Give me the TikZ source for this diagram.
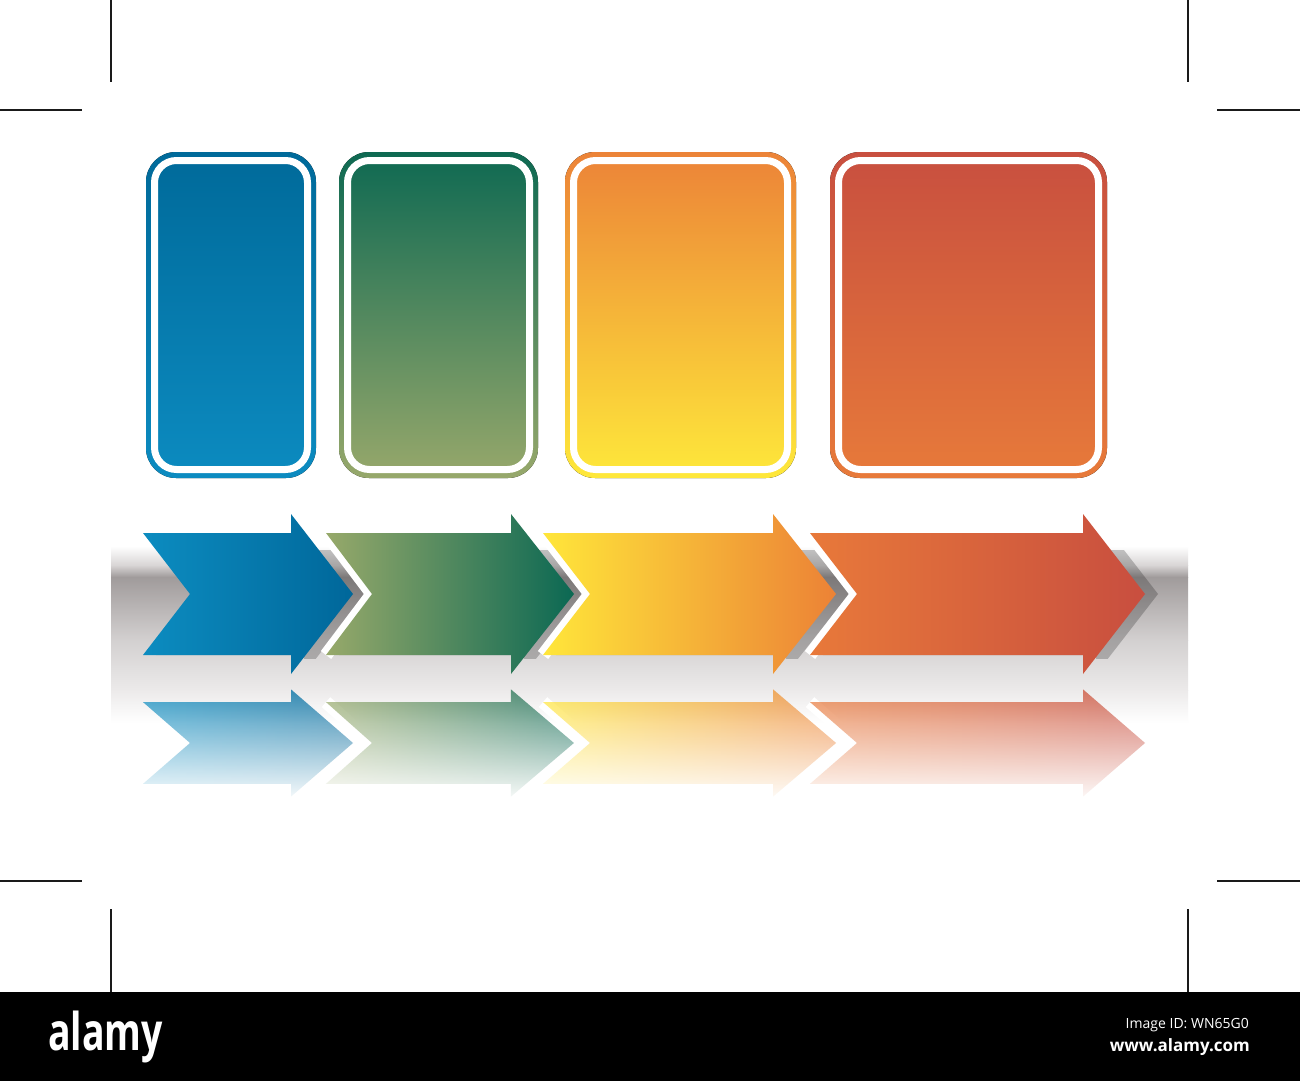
\documentclass[tikz,border=0pt]{standalone}
\usepackage{fontspec}
\setmainfont{Open Sans}
\usetikzlibrary{fadings}
\definecolor{boxAt}{HTML}{006A9A}\definecolor{boxAb}{HTML}{0C8BC0}
\definecolor{boxBt}{HTML}{0E6952}\definecolor{boxBb}{HTML}{97A86B}
\definecolor{boxCt}{HTML}{EC8338}\definecolor{boxCb}{HTML}{FEE83A}
\definecolor{boxDt}{HTML}{C84F3F}\definecolor{boxDb}{HTML}{E77A3A}
\definecolor{arAl}{HTML}{0C8CC0}\definecolor{arAr}{HTML}{00679A}
\definecolor{arBl}{HTML}{97A96A}\definecolor{arBr}{HTML}{0B6853}
\definecolor{arCl}{HTML}{FFE63A}\definecolor{arCr}{HTML}{EC8236}
\definecolor{arDl}{HTML}{E8793A}\definecolor{arDr}{HTML}{C84E3F}
\definecolor{cropline}{HTML}{1A1A1A}
\definecolor{bandA}{HTML}{D9D6D6}\definecolor{bandB}{HTML}{A09B9B}
\definecolor{bandC}{HTML}{D3D0D0}\definecolor{bandD}{HTML}{ECEAEA}
\tikzfading[name=reflfade, top color=transparent!22, bottom color=transparent!95]
\tikzset{shadowfill/.style={fill=black, fill opacity=0.22}}
% chevron: #1 options, #2 left, #3 notch, #4 head base, #5 tip
\newcommand\chevfill[5]{\path[#1] (#2,-61) -- (#4,-61) -- (#4,-80) -- (#5,0) -- (#4,80) -- (#4,61) -- (#2,61) -- (#3,0) -- cycle;}
\newcommand\chevshadow[4]{\begin{scope}\clip (100,-44) rectangle (1200,64);\chevfill{shadowfill, xshift=13pt}{#1}{#2}{#3}{#4}\end{scope}}
\newcommand\notchline[2]{\draw[white, line width=13pt, line join=miter] (#1,-61) -- (#2,0) -- (#1,61);}
% box: #1 top colour, #2 bottom colour, #3 left, #4 right
\newcommand\panel[4]{%
  \fill[top color=#1, bottom color=#2, rounded corners=30pt] (#3,152) rectangle (#4,478);
  \draw[white, line width=7pt, rounded corners=22pt] ({#3+8.5},160.5) rectangle ({#4-8.5},469.5);}
\begin{document}
\begin{tikzpicture}[x=1pt, y=-1pt]
\useasboundingbox (0,0) rectangle (1300,1081);
\fill[white] (0,0) rectangle (1300,1081);
% crop marks
\begin{scope}[cropline, line width=2pt]
\draw (111,0) -- (111,82);  \draw (0,110) -- (82,110);
\draw (1188,0) -- (1188,82); \draw (1217,110) -- (1300,110);
\draw (0,881) -- (82,881);  \draw (1217,881) -- (1300,881);
\draw (111,909) -- (111,992); \draw (1188,909) -- (1188,992);
\end{scope}
% panels
\panel{boxAt}{boxAb}{146}{316}
\panel{boxBt}{boxBb}{339}{538}
\panel{boxCt}{boxCb}{565}{796}
\panel{boxDt}{boxDb}{830}{1107}
% grey band
\shade[top color=white, bottom color=bandA] (111,546) rectangle (1188,565);
\shade[top color=bandA, bottom color=bandB] (111,565) rectangle (1188,577);
\shade[top color=bandB, bottom color=bandC] (111,577) rectangle (1188,640);
\shade[top color=bandC, bottom color=bandD] (111,640) rectangle (1188,690);
\shade[top color=bandD, bottom color=white] (111,690) rectangle (1188,723);
% main arrows
\begin{scope}[shift={(0,594)}]
\chevshadow{143}{190}{291}{353}
\chevfill{left color=arAl, right color=arAr}{143}{190}{291}{353}
\notchline{326}{372}
\chevshadow{326}{372}{511}{574}
\chevfill{left color=arBl, right color=arBr}{326}{372}{511}{574}
\notchline{543}{590}
\chevshadow{543}{590}{773}{836}
\chevfill{left color=arCl, right color=arCr}{543}{590}{773}{836}
\notchline{810}{857}
\chevshadow{810}{857}{1083}{1145}
\chevfill{left color=arDl, right color=arDr}{810}{857}{1083}{1145}
\end{scope}
% reflections
\begin{scope}[shift={(0,743)}, yscale=0.67]
\chevfill{left color=arAl, right color=arAr, path fading=reflfade}{143}{190}{291}{353}
\notchline{326}{372}
\chevfill{left color=arBl, right color=arBr, path fading=reflfade}{326}{372}{511}{574}
\notchline{543}{590}
\chevfill{left color=arCl, right color=arCr, path fading=reflfade}{543}{590}{773}{836}
\notchline{810}{857}
\chevfill{left color=arDl, right color=arDr, path fading=reflfade}{810}{857}{1083}{1145}
\end{scope}
% footer bar
\fill[black] (0,992) rectangle (1300,1081);
\node[anchor=base west, inner sep=0pt, text=white, font=\fontsize{52}{52}\selectfont\bfseries] (logo) at (48,1050) {\scalebox{0.72}[1]{alamy}};
\node[anchor=base east, inner sep=0pt, text=white, font=\fontsize{14}{14}\selectfont] (imageid) at (1249,1028) {Image ID: WN65G0};
\node[anchor=base east, inner sep=0pt, text=white, font=\fontsize{17}{17}\selectfont\bfseries] (website) at (1250,1051) {www.alamy.com};
\end{tikzpicture}
\end{document}
